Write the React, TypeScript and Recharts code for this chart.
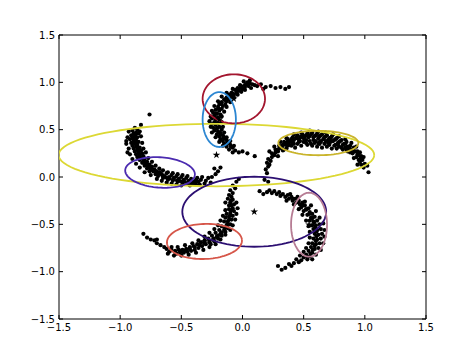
import { ScatterChart, Scatter, XAxis, YAxis, ReferenceArea, Symbols } from "recharts";

const ticks = [-1.5, -1.0, -0.5, 0.0, 0.5, 1.0, 1.5];

// samples
const leftArc: [number, number][] = [
  [-0.88, 0.52], [-0.86, 0.5], [-0.9, 0.49], [-0.87, 0.47], [-0.89, 0.46], [-0.85, 0.46], [-0.91, 0.44],
  [-0.88, 0.43], [-0.86, 0.42], [-0.9, 0.41], [-0.92, 0.4], [-0.87, 0.39], [-0.89, 0.38], [-0.85, 0.37],
  [-0.91, 0.36], [-0.88, 0.35], [-0.86, 0.34], [-0.9, 0.33], [-0.87, 0.32], [-0.84, 0.31], [-0.89, 0.3],
  [-0.86, 0.29], [-0.83, 0.28], [-0.88, 0.27], [-0.85, 0.26], [-0.82, 0.25], [-0.87, 0.24], [-0.84, 0.23],
  [-0.81, 0.22], [-0.86, 0.21], [-0.83, 0.2], [-0.8, 0.19], [-0.84, 0.18], [-0.81, 0.17], [-0.78, 0.16],
  [-0.82, 0.15], [-0.79, 0.14], [-0.76, 0.13], [-0.8, 0.12], [-0.77, 0.11], [-0.74, 0.11], [-0.78, 0.09],
  [-0.75, 0.08], [-0.72, 0.08], [-0.76, 0.06], [-0.73, 0.06], [-0.7, 0.06], [-0.71, 0.03], [-0.68, 0.05],
  [-0.66, 0.03], [-0.69, 0.01], [-0.64, 0.01], [-0.62, 0.04], [-0.65, -0.01], [-0.6, 0.0], [-0.58, 0.02],
  [-0.61, -0.03], [-0.56, -0.01], [-0.54, 0.01], [-0.57, -0.04], [-0.52, -0.02], [-0.5, 0.0], [-0.53, -0.05],
  [-0.48, -0.03], [-0.46, -0.01], [-0.49, -0.06], [-0.44, -0.04], [-0.42, -0.02], [-0.45, -0.07], [-0.4, -0.05],
  [-0.38, -0.03], [-0.41, -0.07], [-0.36, -0.05], [-0.34, -0.03], [-0.3, -0.04], [-0.28, -0.01], [-0.25, 0.0],
  [-0.26, -0.06], [-0.22, 0.03], [-0.2, 0.06], [-0.23, 0.09], [-0.18, 0.1], [-0.31, -0.07], [-0.95, 0.38],
  [-0.76, 0.66], [-0.83, 0.55], [-0.94, 0.26],
  [-0.93, 0.48], [-0.84, 0.48], [-0.94, 0.42], [-0.83, 0.43], [-0.95, 0.35], [-0.82, 0.36], [-0.93, 0.3],
  [-0.81, 0.3], [-0.92, 0.24], [-0.79, 0.26], [-0.9, 0.19], [-0.77, 0.2], [-0.87, 0.14], [-0.74, 0.16],
  [-0.84, 0.1], [-0.71, 0.12], [-0.8, 0.05], [-0.68, 0.09], [-0.75, 0.02], [-0.65, 0.07], [-0.7, -0.02],
  [-0.61, 0.05], [-0.66, -0.04], [-0.57, 0.04], [-0.62, -0.06], [-0.53, 0.03], [-0.58, -0.07], [-0.49, 0.02],
  [-0.54, -0.08], [-0.45, 0.01], [-0.5, -0.09], [-0.43, -0.09], [-0.38, -0.08], [-0.35, -0.08], [-0.33, 0.0],
  [-0.37, -0.01], [-0.875, 0.445], [-0.885, 0.405], [-0.875, 0.365], [-0.865, 0.325], [-0.855, 0.285],
  [-0.845, 0.245], [-0.825, 0.205], [-0.805, 0.165], [-0.775, 0.125], [-0.745, 0.095], [-0.715, 0.065],
  [-0.685, 0.035], [-0.655, 0.015], [-0.625, -0.005], [-0.595, -0.015], [-0.565, -0.025], [-0.535, -0.035],
  [-0.505, -0.045], [-0.475, -0.05], [-0.445, -0.055], [-0.415, -0.06], [-0.385, -0.055],
];

const upperArc: [number, number][] = [
  [-0.11, 0.29], [-0.08, 0.31], [-0.13, 0.32], [-0.1, 0.34], [-0.15, 0.35], [-0.12, 0.36], [-0.16, 0.38],
  [-0.13, 0.39], [-0.18, 0.4], [-0.15, 0.41], [-0.19, 0.43], [-0.16, 0.44], [-0.21, 0.45], [-0.18, 0.46],
  [-0.2, 0.48], [-0.23, 0.49], [-0.17, 0.5], [-0.21, 0.51], [-0.24, 0.52], [-0.19, 0.53], [-0.22, 0.55],
  [-0.25, 0.56], [-0.2, 0.57], [-0.23, 0.58], [-0.18, 0.59], [-0.22, 0.61], [-0.25, 0.62], [-0.2, 0.63],
  [-0.23, 0.65], [-0.18, 0.66], [-0.21, 0.67], [-0.24, 0.68], [-0.19, 0.7], [-0.22, 0.71], [-0.17, 0.72],
  [-0.2, 0.74], [-0.16, 0.75], [-0.19, 0.77], [-0.14, 0.77], [-0.17, 0.79], [-0.13, 0.8], [-0.15, 0.82],
  [-0.11, 0.82], [-0.13, 0.84], [-0.09, 0.85], [-0.11, 0.87], [-0.07, 0.87], [-0.09, 0.89], [-0.05, 0.89],
  [-0.06, 0.92], [-0.03, 0.91], [-0.04, 0.94], [0.0, 0.93], [-0.01, 0.96], [0.02, 0.95], [0.03, 0.98],
  [0.05, 0.96], [0.06, 0.99], [0.08, 0.98], [0.04, 1.0], [-0.06, 0.28], [-0.03, 0.26], [0.0, 0.27],
  [0.04, 0.25], [-0.08, 0.26], [0.1, 0.22], [0.12, 0.96], [0.15, 0.98], [0.19, 0.95], [0.23, 0.96],
  [0.27, 0.94], [0.31, 0.95], [0.35, 0.93], [0.38, 0.95], [0.17, 0.93],
  [-0.07, 0.33], [-0.16, 0.33], [-0.1, 0.38], [-0.19, 0.37], [-0.13, 0.42], [-0.22, 0.42], [-0.15, 0.47],
  [-0.25, 0.47], [-0.16, 0.53], [-0.26, 0.53], [-0.17, 0.58], [-0.27, 0.59], [-0.17, 0.64], [-0.26, 0.64],
  [-0.15, 0.69], [-0.25, 0.7], [-0.13, 0.74], [-0.23, 0.75], [-0.1, 0.79], [-0.2, 0.8], [-0.07, 0.84],
  [-0.17, 0.85], [-0.04, 0.87], [-0.13, 0.89], [-0.01, 0.9], [-0.08, 0.93], [0.02, 0.92], [-0.02, 0.97],
  [0.07, 0.94], [0.01, 1.01], [0.1, 0.97], [0.06, 1.02], [-0.095, 0.32], [-0.125, 0.37], [-0.155, 0.42],
  [-0.185, 0.47], [-0.205, 0.52], [-0.215, 0.57], [-0.215, 0.62], [-0.21, 0.67], [-0.195, 0.72],
  [-0.175, 0.77], [-0.145, 0.815], [-0.115, 0.85], [-0.08, 0.88], [-0.045, 0.91], [-0.015, 0.94],
  [0.02, 0.97], [0.05, 0.98],
];

const rightArc: [number, number][] = [
  [0.2, 0.04], [0.19, 0.08], [0.21, 0.11], [0.2, 0.15], [0.22, 0.13], [0.23, 0.17], [0.21, 0.19],
  [0.24, 0.21], [0.26, 0.23], [0.24, 0.25], [0.27, 0.26], [0.29, 0.27], [0.27, 0.29], [0.3, 0.3],
  [0.32, 0.31], [0.3, 0.33], [0.33, 0.34], [0.35, 0.34], [0.34, 0.37], [0.37, 0.37], [0.39, 0.37],
  [0.37, 0.4], [0.4, 0.4], [0.42, 0.39], [0.41, 0.42], [0.44, 0.41], [0.46, 0.4], [0.45, 0.44],
  [0.48, 0.43], [0.5, 0.41], [0.49, 0.45], [0.52, 0.44], [0.54, 0.42], [0.53, 0.46], [0.56, 0.45],
  [0.58, 0.42], [0.57, 0.47], [0.6, 0.44], [0.62, 0.41], [0.61, 0.46], [0.64, 0.44], [0.66, 0.4],
  [0.65, 0.45], [0.68, 0.43], [0.7, 0.39], [0.69, 0.44], [0.72, 0.41], [0.74, 0.38], [0.73, 0.43],
  [0.76, 0.4], [0.78, 0.36], [0.77, 0.41], [0.8, 0.38], [0.82, 0.34], [0.81, 0.39], [0.84, 0.35],
  [0.86, 0.32], [0.85, 0.37], [0.88, 0.33], [0.89, 0.29], [0.87, 0.3], [0.91, 0.31], [0.92, 0.27],
  [0.9, 0.25], [0.94, 0.27], [0.95, 0.23], [0.93, 0.21], [0.97, 0.22], [0.98, 0.18], [0.96, 0.16],
  [1.0, 0.14], [0.99, 0.1], [1.02, 0.12], [1.03, 0.05], [0.94, 0.13], [0.18, -0.03], [0.21, -0.05],
  [0.22, 0.27], [0.29, 0.22], [0.26, 0.32], [0.33, 0.28], [0.31, 0.37], [0.37, 0.33], [0.36, 0.41],
  [0.41, 0.36], [0.42, 0.45], [0.46, 0.37], [0.48, 0.47], [0.52, 0.39], [0.55, 0.49], [0.58, 0.39],
  [0.62, 0.48], [0.64, 0.38], [0.68, 0.47], [0.7, 0.36], [0.74, 0.45], [0.76, 0.34], [0.79, 0.43],
  [0.81, 0.31], [0.84, 0.4], [0.85, 0.29], [0.89, 0.36], [0.88, 0.26], [0.93, 0.32], [0.91, 0.2],
  [0.96, 0.26], [0.95, 0.18], [0.99, 0.21], [0.97, 0.13], [0.25, 0.235], [0.285, 0.285], [0.32, 0.325],
  [0.36, 0.36], [0.4, 0.385], [0.44, 0.42], [0.475, 0.42], [0.51, 0.43], [0.55, 0.435], [0.59, 0.435],
  [0.63, 0.43], [0.67, 0.42], [0.71, 0.41], [0.75, 0.39], [0.79, 0.37], [0.83, 0.35], [0.87, 0.315],
  [0.905, 0.28], [0.94, 0.24], [0.965, 0.2],
  [0.36, 0.3], [0.4, 0.33], [0.43, 0.31], [0.45, 0.35], [0.48, 0.33], [0.5, 0.37], [0.53, 0.34],
  [0.55, 0.38], [0.57, 0.33], [0.59, 0.36], [0.61, 0.32], [0.63, 0.35], [0.65, 0.31], [0.67, 0.35],
  [0.69, 0.32], [0.71, 0.34], [0.73, 0.3], [0.75, 0.33], [0.77, 0.3], [0.79, 0.32], [0.82, 0.29],
  [0.84, 0.31], [0.86, 0.27], [0.42, 0.35], [0.47, 0.38], [0.52, 0.36], [0.56, 0.35], [0.6, 0.38],
  [0.64, 0.37], [0.68, 0.38], [0.72, 0.37], [0.78, 0.34], [0.34, 0.29], [0.38, 0.34],
];

const lowerRightArc: [number, number][] = [
  [0.14, -0.15], [0.17, -0.18], [0.2, -0.16], [0.22, -0.14], [0.24, -0.17], [0.26, -0.15], [0.28, -0.18],
  [0.3, -0.16], [0.31, -0.2], [0.33, -0.18], [0.35, -0.21], [0.37, -0.19], [0.38, -0.23], [0.4, -0.21],
  [0.41, -0.25], [0.43, -0.23], [0.44, -0.27], [0.46, -0.25], [0.47, -0.29], [0.49, -0.27], [0.48, -0.32],
  [0.51, -0.3], [0.52, -0.34], [0.5, -0.36], [0.54, -0.33], [0.55, -0.37], [0.53, -0.4], [0.57, -0.39],
  [0.56, -0.43], [0.59, -0.42], [0.55, -0.46], [0.58, -0.47], [0.61, -0.46], [0.57, -0.51], [0.6, -0.51],
  [0.63, -0.5], [0.58, -0.55], [0.61, -0.56], [0.64, -0.55], [0.59, -0.6], [0.62, -0.61], [0.65, -0.6],
  [0.58, -0.65], [0.61, -0.66], [0.64, -0.65], [0.57, -0.7], [0.6, -0.71], [0.63, -0.7], [0.56, -0.74],
  [0.59, -0.76], [0.62, -0.75], [0.54, -0.78], [0.57, -0.8], [0.52, -0.82], [0.55, -0.84], [0.5, -0.85],
  [0.53, -0.87], [0.48, -0.88], [0.46, -0.9], [0.44, -0.87], [0.42, -0.91], [0.4, -0.94], [0.38, -0.92],
  [0.35, -0.96], [0.32, -0.98], [0.29, -0.94],
  [0.39, -0.18], [0.36, -0.25], [0.45, -0.21], [0.42, -0.29], [0.51, -0.26], [0.46, -0.34], [0.56, -0.3],
  [0.49, -0.4], [0.6, -0.36], [0.52, -0.46], [0.63, -0.43], [0.54, -0.52], [0.66, -0.49], [0.55, -0.58],
  [0.67, -0.56], [0.55, -0.64], [0.67, -0.63], [0.54, -0.7], [0.66, -0.7], [0.52, -0.75], [0.64, -0.77],
  [0.5, -0.79], [0.6, -0.82], [0.47, -0.83], [0.57, -0.87], [0.415, -0.23], [0.455, -0.265], [0.49, -0.3],
  [0.52, -0.345], [0.545, -0.39], [0.57, -0.435], [0.585, -0.48], [0.595, -0.53], [0.605, -0.575],
  [0.605, -0.625], [0.6, -0.675], [0.59, -0.725], [0.575, -0.77], [0.555, -0.81], [0.53, -0.845],
];

const bottomArc: [number, number][] = [
  [-0.03, -0.02], [-0.05, -0.05], [-0.08, -0.09], [-0.06, -0.12], [-0.1, -0.14], [-0.08, -0.17],
  [-0.11, -0.19], [-0.09, -0.21], [-0.12, -0.23], [-0.08, -0.24], [-0.1, -0.27], [-0.07, -0.29],
  [-0.11, -0.3], [-0.08, -0.33], [-0.11, -0.34], [-0.07, -0.36], [-0.1, -0.38], [-0.13, -0.39],
  [-0.08, -0.41], [-0.11, -0.42], [-0.14, -0.43], [-0.09, -0.45], [-0.12, -0.47], [-0.15, -0.47],
  [-0.1, -0.5], [-0.13, -0.51], [-0.17, -0.52], [-0.12, -0.54], [-0.15, -0.56], [-0.19, -0.56],
  [-0.14, -0.58], [-0.18, -0.6], [-0.22, -0.59], [-0.17, -0.62], [-0.21, -0.63], [-0.25, -0.62],
  [-0.2, -0.65], [-0.24, -0.66], [-0.28, -0.65], [-0.23, -0.68], [-0.27, -0.69], [-0.31, -0.67],
  [-0.26, -0.71], [-0.3, -0.71], [-0.34, -0.69], [-0.33, -0.73], [-0.37, -0.71], [-0.36, -0.75],
  [-0.4, -0.73], [-0.39, -0.77], [-0.43, -0.74], [-0.42, -0.78], [-0.46, -0.76], [-0.45, -0.79],
  [-0.49, -0.77], [-0.48, -0.8], [-0.52, -0.77], [-0.51, -0.8], [-0.55, -0.78], [-0.54, -0.81],
  [-0.58, -0.77], [-0.6, -0.79], [-0.62, -0.76], [-0.64, -0.74], [-0.67, -0.72], [-0.7, -0.7],
  [-0.72, -0.67], [-0.75, -0.66], [-0.78, -0.64], [-0.81, -0.6], [-0.7, -0.66],
  [-0.05, -0.27], [-0.14, -0.27], [-0.04, -0.33], [-0.14, -0.35], [-0.05, -0.39], [-0.16, -0.41],
  [-0.06, -0.45], [-0.18, -0.46], [-0.08, -0.51], [-0.2, -0.51], [-0.1, -0.56], [-0.23, -0.55],
  [-0.14, -0.61], [-0.27, -0.59], [-0.18, -0.66], [-0.31, -0.63], [-0.22, -0.71], [-0.36, -0.67],
  [-0.27, -0.74], [-0.41, -0.7], [-0.32, -0.77], [-0.47, -0.72], [-0.38, -0.8], [-0.53, -0.74],
  [-0.44, -0.82], [-0.58, -0.74], [-0.5, -0.83], [-0.56, -0.83], [-0.61, -0.81], [-0.095, -0.25],
  [-0.09, -0.3], [-0.09, -0.35], [-0.1, -0.4], [-0.11, -0.45], [-0.125, -0.5], [-0.145, -0.545],
  [-0.17, -0.585], [-0.2, -0.62], [-0.235, -0.65], [-0.27, -0.675], [-0.31, -0.7], [-0.35, -0.72],
  [-0.39, -0.74], [-0.43, -0.76], [-0.47, -0.78], [-0.51, -0.785], [-0.55, -0.795], [-0.59, -0.78],
];

// mixture components: means, semi-axes, tilt in degrees
const meanX = [-0.213, 0.62, -0.071, -0.19, -0.674, 0.096, 0.544, -0.311];
const meanY = [0.232, 0.359, 0.826, 0.607, 0.048, -0.367, -0.504, -0.681];
const axisA = [1.29, 0.327, 0.255, 0.136, 0.286, 0.588, 0.147, 0.307];
const axisB = [0.33, 0.129, 0.259, 0.29, 0.16, 0.37, 0.338, 0.185];
const tilt = [0, 0, 0, 0, -6, 0, 0, 3];

const colors = ["#dcd834", "#c9b42c", "#a3152e", "#2b86d2", "#4b2bb0", "#2c0f72", "#b67c93", "#d65649"];

const PLOT_W = 367;
const PLOT_H = 284;

const samples = [leftArc, upperArc, rightArc, lowerRightArc, bottomArc]
  .flat()
  .map(([x, y]) => ({ x, y }));

const means = meanX.map((x, i) => ({ x, y: meanY[i] }));

const outline = (i: number) => {
  const th = (tilt[i] * Math.PI) / 180;
  const pts = [];
  for (let k = 0; k <= 96; k++) {
    const t = (k / 96) * Math.PI * 2;
    const u = axisA[i] * Math.cos(t);
    const v = axisB[i] * Math.sin(t);
    pts.push({
      x: meanX[i] + u * Math.cos(th) - v * Math.sin(th),
      y: meanY[i] + u * Math.sin(th) + v * Math.cos(th),
    });
  }
  return pts;
};

const fmt = (v: number) => (v < 0 ? "\u2212" + Math.abs(v).toFixed(1) : v.toFixed(1));

const font = { fontFamily: "DejaVu Sans", fontSize: 10, fill: "#000" };

const XTick = (props: any) => {
  const { x, y, payload } = props;
  return (
    <g>
      <line x1={x} y1={y} x2={x} y2={y - 4} stroke="#000" />
      <line x1={x} y1={y - PLOT_H} x2={x} y2={y - PLOT_H + 4} stroke="#000" />
      <text x={x} y={y + 12} textAnchor="middle" {...font}>
        {fmt(payload.value)}
      </text>
    </g>
  );
};

const YTick = (props: any) => {
  const { x, y, payload } = props;
  return (
    <g>
      <line x1={x} y1={y} x2={x + 4} y2={y} stroke="#000" />
      <line x1={x + PLOT_W} y1={y} x2={x + PLOT_W - 4} y2={y} stroke="#000" />
      <text x={x - 4} y={y + 3.6} textAnchor="end" {...font}>
        {fmt(payload.value)}
      </text>
    </g>
  );
};

const Dot = (p: any) => <circle cx={p.cx} cy={p.cy} r={2.1} fill="#000" />;
const Star = (p: any) => <Symbols type="star" size={18} cx={p.cx} cy={p.cy} fill="#000" />;
const Nothing = () => <g />;

export default function App() {
  return (
    <ScatterChart width={466} height={339} margin={{ top: 27, right: 48, bottom: 0, left: 0 }}>
      <XAxis
        type="number"
        dataKey="x"
        domain={[-1.5, 1.5]}
        ticks={ticks}
        interval={0}
        allowDataOverflow
        height={28}
        tickSize={0}
        tickMargin={0}
        axisLine={false}
        tick={<XTick />}
      />
      <YAxis
        type="number"
        dataKey="y"
        domain={[-1.5, 1.5]}
        ticks={ticks}
        interval={0}
        allowDataOverflow
        width={51}
        tickSize={0}
        tickMargin={0}
        axisLine={false}
        tick={<YTick />}
      />
      <Scatter data={samples} shape={Dot} isAnimationActive={false} />
      {colors.map((c, i) => (
        <Scatter
          key={i}
          data={outline(i)}
          fill={c}
          line={{ stroke: c, strokeWidth: 1.8 }}
          lineType="joint"
          shape={Nothing}
          isAnimationActive={false}
        />
      ))}
      <Scatter data={means} shape={Star} isAnimationActive={false} />
      <ReferenceArea
        x1={-1.5}
        x2={1.5}
        y1={-1.5}
        y2={1.5}
        fill="none"
        stroke="#000"
        strokeWidth={1}
        ifOverflow="visible"
      />
    </ScatterChart>
  );
}
